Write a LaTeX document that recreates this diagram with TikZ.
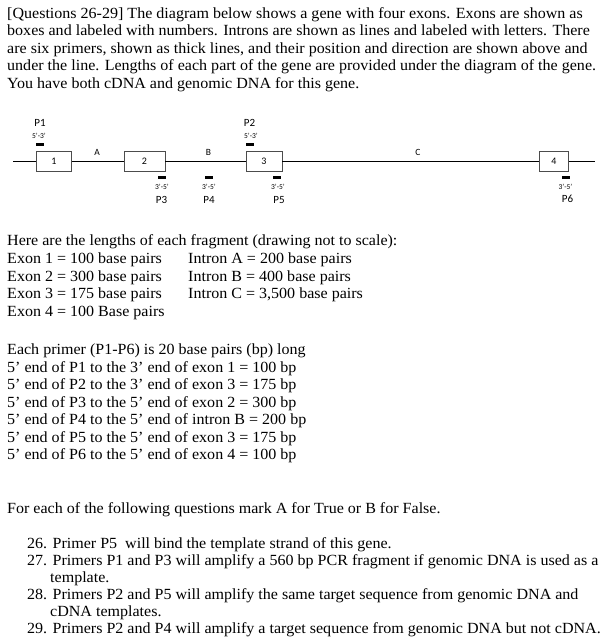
\documentclass[tikz,border=0pt]{standalone}
\usepackage{fontspec}
\setmainfont[FakeStretch=1.035]{Liberation Serif}
\newfontfamily\diagfont{Carlito}
\begin{document}
\begin{tikzpicture}[x=1pt,y=-1pt,
  txt/.style={anchor=base west, inner sep=0pt, font=\fontsize{15.5}{18}\selectfont},
  exon/.style={draw=black!70, line width=0.8pt, inner sep=0pt, minimum height=19.3pt, font=\diagfont\fontsize{10}{12}\selectfont},
  gene/.style={line width=0.9pt, draw=black},
  intr/.style={inner sep=0pt, font=\diagfont\fontsize{9.5}{11}\selectfont},
  primer/.style={fill=black, inner sep=0pt, minimum width=8pt, minimum height=3pt},
  plabel/.style={inner sep=0pt, font=\diagfont\fontsize{11}{13}\selectfont},
  dlabel/.style={inner sep=0pt, font=\diagfont\fontsize{7.5}{9}\selectfont}]
\useasboundingbox (0,0) rectangle (603,641);
\fill[white] (0,0) rectangle (603,641);
% intro paragraph
\node[txt] (t1) at (7,18) {[Questions 26-29] The diagram below shows a gene with four exons. Exons are shown as};
\node[txt] (t2) at (7,35.5) {boxes and labeled with numbers. Introns are shown as lines and labeled with letters. There};
\node[txt] (t3) at (7,53) {are six primers, shown as thick lines, and their position and direction are shown above and};
\node[txt] (t4) at (7,70.5) {under the line. Lengths of each part of the gene are provided under the diagram of the gene.};
\node[txt] (t5) at (7,88) {You have both cDNA and genomic DNA for this gene.};
% gene diagram
\coordinate (gs) at (13,161.5);
\coordinate (ge) at (595,161.5);
\node[exon, minimum width=35.7pt] (e1) at (53.8,161.5) {1};
\node[exon, minimum width=41pt] (e2) at (144.5,161.5) {2};
\node[exon, minimum width=36pt] (e3) at (264,161.5) {3};
\node[exon, minimum width=29.5pt] (e4) at (553.8,161.5) {4};
\draw[gene] (gs) -- (e1.west);
\draw[gene] (e1.east) -- (e2.west);
\draw[gene] (e2.east) -- (e3.west);
\draw[gene] (e3.east) -- (e4.west);
\draw[gene] (e4.east) -- (ge);
\node[intr] (iA) at (97,152) {A};
\node[intr] (iB) at (208.5,152) {B};
\node[intr] (iC) at (418,152) {C};
% primers
\node[primer] (b1) at (40,144.5) {};
\node[primer] (b2) at (250,144.5) {};
\node[primer] (b3) at (161.5,177.5) {};
\node[primer] (b4) at (208.5,177.5) {};
\node[primer] (b5) at (277,177.5) {};
\node[primer] (b6) at (566,177.5) {};
\node[plabel] (p1) at (40,123.3) {P1};
\node[dlabel] (d1) at (39,136) {5’-3’};
\node[plabel] (p2) at (249.5,123.3) {P2};
\node[dlabel] (d2) at (251,136) {5’-3’};
\node[dlabel] (d3) at (162,187) {3’-5’};
\node[plabel] (p3) at (161.5,200) {P3};
\node[dlabel] (d4) at (209,187) {3’-5’};
\node[plabel] (p4) at (209,200) {P4};
\node[dlabel] (d5) at (278,187) {3’-5’};
\node[plabel] (p5) at (279,200) {P5};
\node[dlabel] (d6) at (565.5,187) {3’-5’};
\node[plabel] (p6) at (567.5,199) {P6};
% lengths
\node[txt] (l0) at (7,245.5) {Here are the lengths of each fragment (drawing not to scale):};
\node[txt] (l1) at (7,263.3) {Exon 1 = 100 base pairs};
\node[txt] (l2) at (7,281) {Exon 2 = 300 base pairs};
\node[txt] (l3) at (7,298.5) {Exon 3 = 175 base pairs};
\node[txt] (l4) at (7,316) {Exon 4 = 100 Base pairs};
\node[txt] (l5) at (188,263.3) {Intron A = 200 base pairs};
\node[txt] (l6) at (188,281) {Intron B = 400 base pairs};
\node[txt] (l7) at (188,298.5) {Intron C = 3,500 base pairs};
% primer info
\node[txt] (m0) at (7,354.5) {Each primer (P1-P6) is 20 base pairs (bp) long};
\node[txt] (m1) at (7,372) {5’ end of P1 to the 3’ end of exon 1 = 100 bp};
\node[txt] (m2) at (7,389.5) {5’ end of P2 to the 3’ end of exon 3 = 175 bp};
\node[txt] (m3) at (7,407) {5’ end of P3 to the 5’ end of exon 2 = 300 bp};
\node[txt] (m4) at (7,424.5) {5’ end of P4 to the 5’ end of intron B = 200 bp};
\node[txt] (m5) at (7,442) {5’ end of P5 to the 5’ end of exon 3 = 175 bp};
\node[txt] (m6) at (7,459.5) {5’ end of P6 to the 5’ end of exon 4 = 100 bp};
% questions
\node[txt] (q0) at (7,513) {For each of the following questions mark A for True or B for False.};
\node[txt] (q1) at (27,548) {26. Primer P5\ \ will bind the template strand of this gene.};
\node[txt] (q2) at (27,565) {27. Primers P1 and P3 will amplify a 560 bp PCR fragment if genomic DNA is used as a};
\node[txt] (q2b) at (50,582) {template.};
\node[txt] (q3) at (27,599) {28. Primers P2 and P5 will amplify the same target sequence from genomic DNA and};
\node[txt] (q3b) at (50,616) {cDNA templates.};
\node[txt] (q4) at (27,633) {29. Primers P2 and P4 will amplify a target sequence from genomic DNA but not cDNA.};
\end{tikzpicture}
\end{document}
